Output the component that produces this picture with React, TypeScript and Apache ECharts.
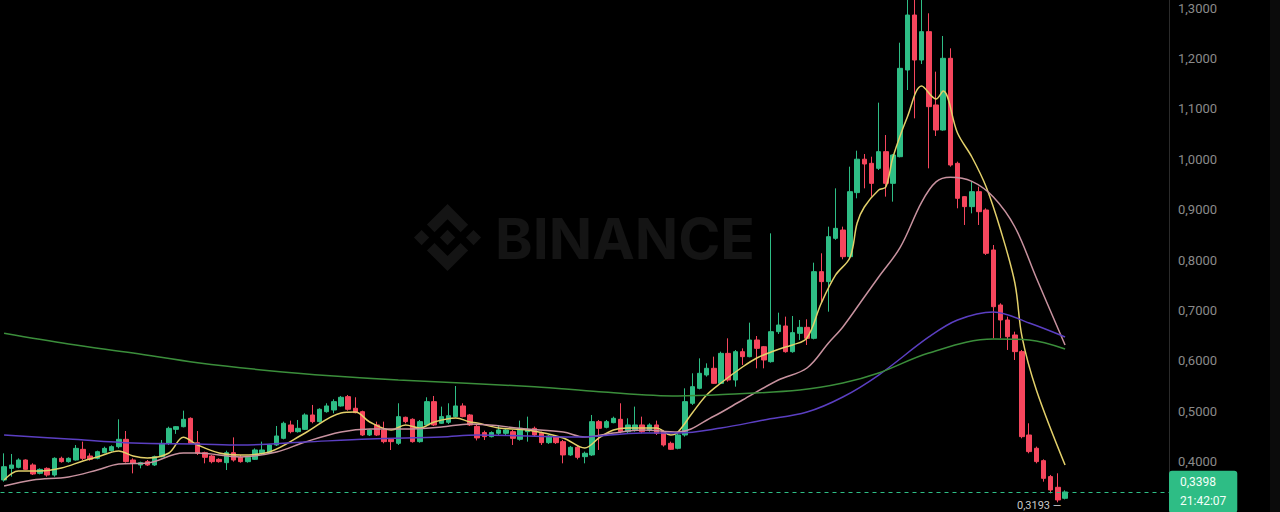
import React, { useEffect, useRef } from "react";
import * as echarts from "echarts";

// Candle values (open, close, low, high), one entry per candle
const opens = [
  0.3635, 0.3866, 0.3886, 0.4032, 0.3933, 0.3767, 0.3866, 0.3734, 0.4065, 0.3999,
  0.4032, 0.4243, 0.4111, 0.4065, 0.4177, 0.4217, 0.4296, 0.4442, 0.4032, 0.3933,
  0.3999, 0.3933, 0.4098, 0.4362, 0.4640, 0.4693, 0.4858, 0.4376, 0.4177, 0.4111,
  0.4045, 0.3979, 0.4177, 0.4085, 0.3999, 0.4045, 0.4164, 0.4177, 0.4330, 0.4462,
  0.4727, 0.4594, 0.4640, 0.4925, 0.4793, 0.4991, 0.5024, 0.5104, 0.5289, 0.5058,
  0.4991, 0.4528, 0.4727, 0.4627, 0.4442, 0.4363, 0.4879, 0.4839, 0.4396, 0.4727,
  0.5190, 0.4760, 0.4780, 0.4892, 0.5104, 0.4925, 0.4700, 0.4575, 0.4495, 0.4561,
  0.4561, 0.4594, 0.4442, 0.4594, 0.4660, 0.4561, 0.4376, 0.4495, 0.4396, 0.4132,
  0.4284, 0.4098, 0.4132, 0.4793, 0.4680, 0.4773, 0.4839, 0.4594, 0.4628, 0.4727,
  0.4628, 0.4727, 0.4594, 0.4363, 0.4264, 0.4528, 0.5157, 0.5454, 0.5719, 0.5851,
  0.5553, 0.6148, 0.5619, 0.6181, 0.6082, 0.6413, 0.6280, 0.5983, 0.6578, 0.6691,
  0.6181, 0.6545, 0.6664, 0.6446, 0.7769, 0.7571, 0.8430, 0.8595, 0.8066, 0.9337,
  1.0000, 0.9918, 0.9819, 1.0150, 0.9521, 1.0050, 1.1770, 1.2861, 1.1968, 1.2531,
  1.1076, 1.0579, 1.2002, 0.9918, 0.9257, 0.9059, 0.9356, 0.8992, 0.8199, 0.7107,
  0.6810, 0.6512, 0.6182, 0.4528, 0.4264, 0.4019, 0.3702, 0.3490, 0.3272,
];
const closes = [
  0.3899, 0.3933, 0.4032, 0.3846, 0.3754, 0.3846, 0.3734, 0.4065, 0.3999, 0.4065,
  0.4263, 0.4065, 0.4045, 0.4197, 0.4263, 0.4296, 0.4442, 0.3999, 0.3966, 0.3979,
  0.3933, 0.4098, 0.4362, 0.4660, 0.4693, 0.4839, 0.4362, 0.4164, 0.4085, 0.3999,
  0.3999, 0.4177, 0.4032, 0.3999, 0.4085, 0.4231, 0.4231, 0.4330, 0.4508, 0.4760,
  0.4594, 0.4660, 0.4925, 0.4793, 0.5038, 0.5104, 0.5190, 0.5276, 0.5038, 0.4971,
  0.4528, 0.4627, 0.4528, 0.4396, 0.4396, 0.4892, 0.4793, 0.4396, 0.4793, 0.5190,
  0.4727, 0.4892, 0.4910, 0.5104, 0.4892, 0.4727, 0.4470, 0.4495, 0.4575, 0.4628,
  0.4628, 0.4462, 0.4660, 0.4640, 0.4528, 0.4376, 0.4508, 0.4376, 0.4132, 0.4284,
  0.4085, 0.4165, 0.4793, 0.4660, 0.4793, 0.4859, 0.4594, 0.4727, 0.4727, 0.4594,
  0.4727, 0.4561, 0.4330, 0.4244, 0.4528, 0.5190, 0.5487, 0.5752, 0.5851, 0.5553,
  0.6148, 0.5619, 0.6181, 0.6082, 0.6413, 0.6247, 0.6016, 0.6578, 0.6710, 0.6181,
  0.6559, 0.6664, 0.6446, 0.7769, 0.7571, 0.8463, 0.8628, 0.8066, 0.9356, 1.0000,
  0.9905, 0.9521, 1.0150, 0.9521, 1.0083, 1.1803, 1.2861, 1.1968, 1.2531, 1.1043,
  1.0579, 1.2002, 0.9885, 0.9224, 0.9059, 0.9356, 0.8959, 0.8133, 0.7074, 0.6810,
  0.6479, 0.6182, 0.4495, 0.4198, 0.4000, 0.3668, 0.3437, 0.3239, 0.3398,
];
const lows = [
  0.3602, 0.3701, 0.3866, 0.3833, 0.3734, 0.3747, 0.3701, 0.3701, 0.3979, 0.3979,
  0.4019, 0.4032, 0.4019, 0.4045, 0.4164, 0.4197, 0.4263, 0.3979, 0.3767, 0.3866,
  0.3913, 0.3913, 0.4085, 0.4329, 0.4550, 0.4680, 0.4349, 0.4131, 0.3966, 0.3966,
  0.3979, 0.3833, 0.3999, 0.3979, 0.3979, 0.4032, 0.4131, 0.4165, 0.4310, 0.4442,
  0.4561, 0.4575, 0.4627, 0.4760, 0.4773, 0.4971, 0.4958, 0.5091, 0.5011, 0.4958,
  0.4508, 0.4508, 0.4508, 0.4363, 0.4230, 0.4330, 0.4760, 0.4376, 0.4376, 0.4707,
  0.4707, 0.4747, 0.4747, 0.4879, 0.4879, 0.4707, 0.4420, 0.4429, 0.4480, 0.4528,
  0.4528, 0.4330, 0.4416, 0.4396, 0.4495, 0.4330, 0.4350, 0.4350, 0.3966, 0.4112,
  0.4045, 0.3966, 0.4112, 0.4231, 0.4660, 0.4760, 0.4561, 0.4561, 0.4594, 0.4561,
  0.4594, 0.4528, 0.4297, 0.4231, 0.4244, 0.4495, 0.5124, 0.5434, 0.5686, 0.5540,
  0.5540, 0.5586, 0.5487, 0.5917, 0.6069, 0.5851, 0.5851, 0.5963, 0.6532, 0.6161,
  0.6161, 0.6413, 0.6314, 0.6426, 0.7141, 0.6975, 0.8400, 0.8014, 0.8033, 0.9224,
  0.9422, 0.9257, 0.9786, 0.9257, 0.9158, 1.0037, 1.1373, 1.0811, 1.1889, 0.9819,
  1.0461, 1.0566, 0.9852, 0.9026, 0.8695, 0.8926, 0.8695, 0.8100, 0.6446, 0.6446,
  0.6215, 0.6016, 0.4462, 0.4165, 0.3966, 0.3602, 0.3371, 0.3193, 0.3250,
];
const highs = [
  0.4164, 0.4151, 0.4065, 0.4045, 0.3966, 0.3866, 0.3886, 0.4085, 0.4098, 0.4085,
  0.4329, 0.4396, 0.4164, 0.4217, 0.4296, 0.4323, 0.4839, 0.4607, 0.4065, 0.3999,
  0.4032, 0.4118, 0.4429, 0.4693, 0.4706, 0.5011, 0.4878, 0.4607, 0.4197, 0.4131,
  0.4065, 0.4217, 0.4481, 0.4131, 0.4111, 0.4263, 0.4396, 0.4350, 0.4707, 0.4793,
  0.4813, 0.4826, 0.4958, 0.5124, 0.5058, 0.5157, 0.5236, 0.5302, 0.5322, 0.5276,
  0.5011, 0.4640, 0.4793, 0.4793, 0.4462, 0.5157, 0.4892, 0.4859, 0.4826, 0.5276,
  0.5302, 0.5091, 0.5157, 0.5500, 0.5157, 0.4945, 0.4740, 0.4614, 0.4600, 0.4727,
  0.4660, 0.4628, 0.4813, 0.4892, 0.4694, 0.4594, 0.4528, 0.4508, 0.4429, 0.4310,
  0.4310, 0.4198, 0.4925, 0.4826, 0.4826, 0.4892, 0.5157, 0.4859, 0.5091, 0.4892,
  0.4760, 0.4813, 0.4628, 0.4396, 0.4561, 0.5454, 0.5752, 0.6049, 0.5950, 0.6082,
  0.6181, 0.6446, 0.6214, 0.6247, 0.6757, 0.6492, 0.6294, 0.8529, 0.6955, 0.6876,
  0.6889, 0.6810, 0.6823, 0.7947, 0.8133, 0.8662, 0.9422, 0.8662, 0.9852, 1.0169,
  1.0103, 1.0050, 1.1122, 1.0480, 1.0103, 1.2312, 1.3400, 1.3300, 1.3300, 1.2895,
  1.1737, 1.2445, 1.2200, 0.9951, 0.9270, 0.9555, 0.9455, 0.9026, 0.8298, 0.7141,
  0.6876, 0.6578, 0.6215, 0.4760, 0.4297, 0.4045, 0.3735, 0.3768, 0.3430,
];

// Moving average lines: [candle index, value]
const ma7 = [
  [0, 0.3635], [2, 0.3814], [5, 0.3814], [8, 0.3873], [11, 0.4012], [13, 0.4092],
  [16, 0.4211], [18, 0.4111], [20, 0.4072], [23, 0.4171], [25, 0.4482], [27, 0.4330],
  [30, 0.4171], [33, 0.4131], [37, 0.4191], [42, 0.4568], [47, 0.4964], [49, 0.4984],
  [51, 0.4786], [54, 0.4627], [56, 0.4727], [58, 0.4667], [60, 0.4786], [63, 0.4865],
  [65, 0.4786], [66, 0.4766], [69, 0.4667], [73, 0.4627], [78, 0.4469], [81, 0.4270],
  [83, 0.4469], [85, 0.4627], [87, 0.4667], [91, 0.4667], [93, 0.4528], [94, 0.4587],
  [96, 0.4964], [98, 0.5322], [100, 0.5560], [103, 0.5877], [105, 0.6056], [107, 0.6175],
  [109, 0.6274], [110, 0.6314], [112, 0.6453], [114, 0.7147], [116, 0.7703], [118, 0.8050],
  [119, 0.8734], [120, 0.9052], [122, 0.9389], [123, 0.9449], [124, 1.0044], [126, 1.0838],
  [128, 1.1453], [130, 1.1195], [131, 1.1353], [133, 1.0520], [135, 1.0044], [137, 0.9449],
  [139, 0.8600], [141, 0.7544], [142, 0.6473], [144, 0.5421], [148, 0.3933],
];
const ma25 = [
  [0, 0.3516], [4, 0.3635], [9, 0.3695], [13, 0.3834], [16, 0.3953], [20, 0.3973],
  [25, 0.4171], [27, 0.4171], [33, 0.4092], [38, 0.4191], [42, 0.4389], [47, 0.4587],
  [51, 0.4647], [56, 0.4647], [61, 0.4687], [65, 0.4746], [73, 0.4647], [78, 0.4587],
  [81, 0.4488], [85, 0.4568], [89, 0.4627], [94, 0.4587], [99, 0.4900], [103, 0.5222],
  [108, 0.5619], [112, 0.5857], [115, 0.6353], [117, 0.6671], [120, 0.7266], [122, 0.7663],
  [125, 0.8250], [128, 0.9150], [130, 0.9550], [132, 0.9640], [135, 0.9560],
  [138, 0.9250], [141, 0.8655], [144, 0.7643], [148, 0.6314],
];
const ma99 = [
  [0, 0.4528], [9, 0.4449], [18, 0.4369], [27, 0.4349], [33, 0.4330], [42, 0.4389],
  [51, 0.4449], [61, 0.4488], [66, 0.4528], [80, 0.4488], [89, 0.4568], [94, 0.4568],
  [100, 0.4667], [106, 0.4826], [112, 0.4984], [117, 0.5282], [122, 0.5718], [129, 0.6473],
  [133, 0.6810], [138, 0.6969], [143, 0.6750], [148, 0.6473],
];
const maLong = [
  [0, 0.6546], [9, 0.6334], [18, 0.6155], [27, 0.5963], [37, 0.5804], [46, 0.5699],
  [55, 0.5619], [74, 0.5486], [83, 0.5387], [94, 0.5302], [101, 0.5336], [111, 0.5421],
  [117, 0.5560], [122, 0.5758], [129, 0.6155], [138, 0.6433], [143, 0.6413], [148, 0.6234],
];

const yTicks = { min: 0.3, max: 1.3159, step: 0.1 };
const lastPrice = 0.3398;
const lastTime = "21:42:07";
const lowPrice = 0.3193;
const lowIndex = 147;
const emptySlots = 14;

const fmt = (v: number) => v.toFixed(4).replace(".", ",");

const logoPath =
  "M38.73,53.2,63.3,28.63,87.89,53.22l14.3-14.3L63.3,0,24.43,38.87l14.3,14.3M0,63.3,14.3,49l14.3,14.3L14.3,77.6Zm38.73,10.11L63.3,97.97l24.59-24.59,14.3,14.29h0L63.3,126.61,24.43,87.74l0,0,14.3-14.3M97.98,63.32l14.3-14.3,14.3,14.3-14.3,14.3ZM77.83,63.3h0L63.3,48.76,52.55,59.51h0l-1.23,1.24L48.78,63.3l0,0,14.52,14.52L77.83,63.3h0";

let registered = false;

export default function App() {
  const ref = useRef<HTMLDivElement>(null);
  useEffect(() => {
    if (!ref.current) return;
    if (!registered) {
      echarts.graphic.registerShape("logo", echarts.graphic.extendPath(logoPath, {}) as any);
      registered = true;
    }
    const chart = echarts.init(ref.current, null, { renderer: "svg" });
    const total = opens.length + emptySlots;
    const cats = Array.from({ length: total }, (_, i) => String(i + 1));
    const candles = opens.map((o, i) => [o, closes[i], lows[i], highs[i]]);
    const lineSeries = (data: number[][], color: string) => ({
      type: "line",
      data,
      showSymbol: false,
      smooth: 0.35,
      z: 3,
      lineStyle: { color, width: 1.5 },
      silent: true,
    });
    chart.setOption({
      animation: false,
      backgroundColor: "#000000",
      grid: { left: 0.5, right: 111, top: 0, bottom: 0 },
      graphic: [
        {
          type: "logo",
          x: 414,
          y: 204,
          scaleX: 0.53,
          scaleY: 0.53,
          z: -10,
          silent: true,
          style: { fill: "#141414" },
        },
        {
          type: "text",
          x: 495,
          y: 238,
          z: -10,
          silent: true,
          style: {
            text: "BINANCE",
            fill: "#141414",
            font: "bold 57px Inter, 'Open Sans', sans-serif",
            verticalAlign: "middle",
          },
        },
        {
          type: "rect",
          shape: { x: 1270, y: 0, width: 10, height: 512 },
          z: -10,
          silent: true,
          style: { fill: "#0b0b0b" },
        },
      ],
      xAxis: {
        type: "category",
        data: cats,
        show: false,
        boundaryGap: true,
      },
      yAxis: {
        type: "value",
        position: "right",
        min: yTicks.min,
        max: yTicks.max,
        interval: yTicks.step,
        axisLine: { show: true, lineStyle: { color: "#2b2b2b", width: 1 } },
        axisTick: { show: false },
        splitLine: { show: false },
        axisLabel: {
          color: "#8a8a8a",
          fontSize: 13,
          fontFamily: "Roboto, sans-serif",
          margin: 9,
          showMinLabel: false,
          showMaxLabel: false,
          formatter: (v: number) => fmt(v),
        },
      },
      series: [
        {
          type: "candlestick",
          data: candles,
          barWidth: 5,
          z: 2,
          itemStyle: {
            color: "#2ebd85",
            color0: "#f6465d",
            borderColor: "#2ebd85",
            borderColor0: "#f6465d",
            borderWidth: 1,
          },
          markLine: {
            silent: true,
            symbol: ["none", "none"],
            lineStyle: { color: "#2ebd85", type: [4, 4], width: 1 },
            label: {
              show: true,
              position: "end",
              distance: 0,
              formatter: `${fmt(lastPrice)}\n${lastTime}`,
              backgroundColor: "#2ebd85",
              color: "#f4fff9",
              fontSize: 12,
              fontFamily: "Roboto, sans-serif",
              lineHeight: 19,
              padding: [2, 11, 2, 11],
              borderRadius: 3,
              align: "left",
            },
            data: [{ yAxis: lastPrice }],
          },
          markPoint: {
            silent: true,
            symbol: "circle",
            symbolSize: 1,
            itemStyle: { color: "rgba(0,0,0,0)" },
            label: {
              show: true,
              position: "left",
              offset: [9, 3],
              formatter: `${fmt(lowPrice)} —`,
              color: "#c8c8c8",
              fontSize: 11,
              fontFamily: "Roboto, sans-serif",
            },
            data: [{ coord: [lowIndex, lowPrice] }],
          },
        },
        lineSeries(ma7, "#e3d06a"),
        lineSeries(ma25, "#c8929f"),
        lineSeries(ma99, "#5b3fc2"),
        lineSeries(maLong, "#3b8e3b"),
      ],
    });
    return () => chart.dispose();
  }, []);
  return (
    <div
      ref={ref}
      style={{ position: "fixed", left: 0, top: 0, width: 1280, height: 512 }}
    />
  );
}
